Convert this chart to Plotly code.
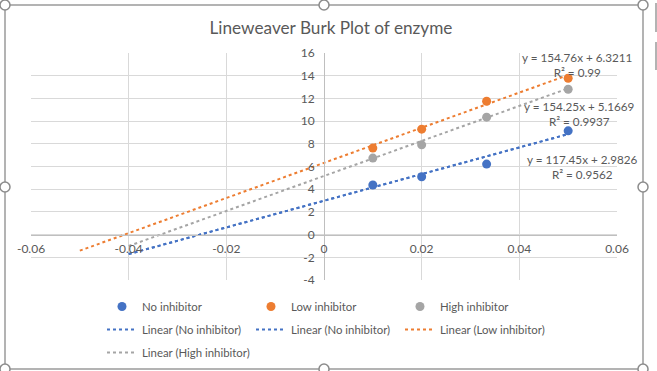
import plotly.graph_objects as go

# ---------------- data ----------------
inv_s = [0.01, 0.02, 0.0333, 0.05]
no_inhibitor = [4.37, 5.10, 6.21, 9.14]
low_inhibitor = [7.62, 9.29, 11.75, 13.78]
high_inhibitor = [6.74, 7.91, 10.35, 12.81]

series_names = ["No inhibitor", "Low inhibitor", "High inhibitor"]
slopes = [117.45, 154.76, 154.25]
intercepts = [2.9826, 6.3211, 5.1669]
r_squared = ["0.9562", "0.99", "0.9937"]
trend_start = [-0.04, -0.05, -0.04]
trend_end = [0.05, 0.05, 0.05]

x_tickvals = [-0.06, -0.04, -0.02, 0, 0.02, 0.04, 0.06]
x_ticktext = ["-0.06", "-0.04", "-0.02", "0", "0.02", "0.04", "0.06"]
y_tickvals = [-4, -2, 0, 2, 4, 6, 8, 10, 12, 14, 16]
y_ticktext = ["-4", "-2", "0", "2", "4", "6", "8", "10", "12", "14", "16"]

colors = ["#4472C4", "#ED7D31", "#A5A5A5"]
FONT = "Lato"
TXT = "#595959"

W, H = 657, 371
L, R, T, B = 31, 40, 53, 91
PW, PH = W - L - R, H - T - B


def px(xp):
    return (xp - L) / PW


def py(yp):
    return (H - B - yp) / PH


fig = go.Figure()

values = [no_inhibitor, low_inhibitor, high_inhibitor]


def trend(i):
    xs = [trend_start[i], trend_end[i]]
    ys = [slopes[i] * v + intercepts[i] for v in xs]
    return xs, ys


# legend row 2: Linear(No), Linear(No), Linear(Low); row 3: Linear(High)
trend_order = [(0, "legend2", 104), (0, "legend2", 104), (1, "legend2", 160), (2, "legend3", 160)]
for i, lg, lw in trend_order:
    xs, ys = trend(i)
    fig.add_trace(go.Scatter(
        x=xs, y=ys, mode="lines",
        line=dict(color=colors[i], width=2, dash="dot"),
        name=f"Linear ({series_names[i]})", legend=lg, legendwidth=lw,
        hoverinfo="skip"))

for i in range(3):
    fig.add_trace(go.Scatter(
        x=inv_s, y=values[i], mode="markers",
        marker=dict(color=colors[i], size=9),
        name=series_names[i], legend="legend",
        legendwidth=(104 if i < 2 else 160)))

# equations
eq_pos = [(0.05286, 6.03), (0.05174, 15.02), (0.05235, 10.70)]
for i in range(3):
    fig.add_annotation(
        x=eq_pos[i][0], y=eq_pos[i][1], xref="x", yref="y",
        text=f"y = {slopes[i]}x + {intercepts[i]}<br>R² = {r_squared[i]}",
        showarrow=False, align="center",
        font=dict(family=FONT, size=11.7, color=TXT))

# chart frame and selection handles
shapes = [dict(type="rect", xref="paper", yref="paper",
               x0=px(5), x1=px(643), y0=py(5), y1=py(369),
               line=dict(color="#9a9a9a", width=1.5), layer="below")]
for (cx, cy) in [(5, 5), (324, 5), (643, 5), (5, 187), (643, 187),
                 (5, 369), (324, 369), (643, 369)]:
    shapes.append(dict(type="circle", xref="paper", yref="paper",
                       x0=px(cx - 5), x1=px(cx + 5), y0=py(cy - 5), y1=py(cy + 5),
                       fillcolor="white", line=dict(color="#8c8c8c", width=1.5)))
for (y0, y1) in [(3, 32), (42, 70)]:
    shapes.append(dict(type="line", xref="paper", yref="paper",
                       x0=px(656), x1=px(656), y0=py(y0), y1=py(y1),
                       line=dict(color="#9a9a9a", width=1.5)))

leg_common = dict(orientation="h", xanchor="left", yanchor="top",
                  x=px(102), itemwidth=30,
                  bgcolor="rgba(0,0,0,0)",
                  font=dict(family=FONT, size=11.4, color=TXT))

fig.update_layout(
    width=W, height=H,
    margin=dict(l=L, r=R, t=T, b=B, pad=0, autoexpand=False),
    paper_bgcolor="white", plot_bgcolor="white",
    title=dict(text="Lineweaver Burk Plot of enzyme", x=331 / W, xref="container",
               xanchor="center", y=1 - 28 / H, yanchor="middle",
               font=dict(family=FONT, size=17.2, color=TXT)),
    font=dict(family=FONT, size=12, color=TXT),
    xaxis=dict(range=[-0.06, 0.06], tickvals=x_tickvals, ticktext=x_ticktext,
               showgrid=True, gridcolor="#d9d9d9", gridwidth=1,
               zeroline=False, showline=True, linecolor="#bfbfbf", linewidth=1,
               anchor="free", position=0.2, automargin=False,
               ticks="outside", ticklen=3, tickcolor="rgba(0,0,0,0)",
               tickfont=dict(family=FONT, size=12, color=TXT)),
    yaxis=dict(range=[-4, 16], tickvals=y_tickvals, ticktext=y_ticktext,
               showgrid=True, gridcolor="#d9d9d9", gridwidth=1,
               zeroline=False, showline=True, linecolor="#bfbfbf", linewidth=1,
               anchor="free", position=0.5, automargin=False,
               ticks="outside", ticklen=7, tickcolor="rgba(0,0,0,0)",
               tickfont=dict(family=FONT, size=12, color=TXT)),
    legend=dict(**leg_common, y=py(292)),
    legend2=dict(**leg_common, y=py(315)),
    legend3=dict(**leg_common, y=py(338)),
    shapes=shapes,
    showlegend=True,
)

fig.write_html("out.html", config={"displayModeBar": False},
               post_script="document.body.style.margin='0';")
